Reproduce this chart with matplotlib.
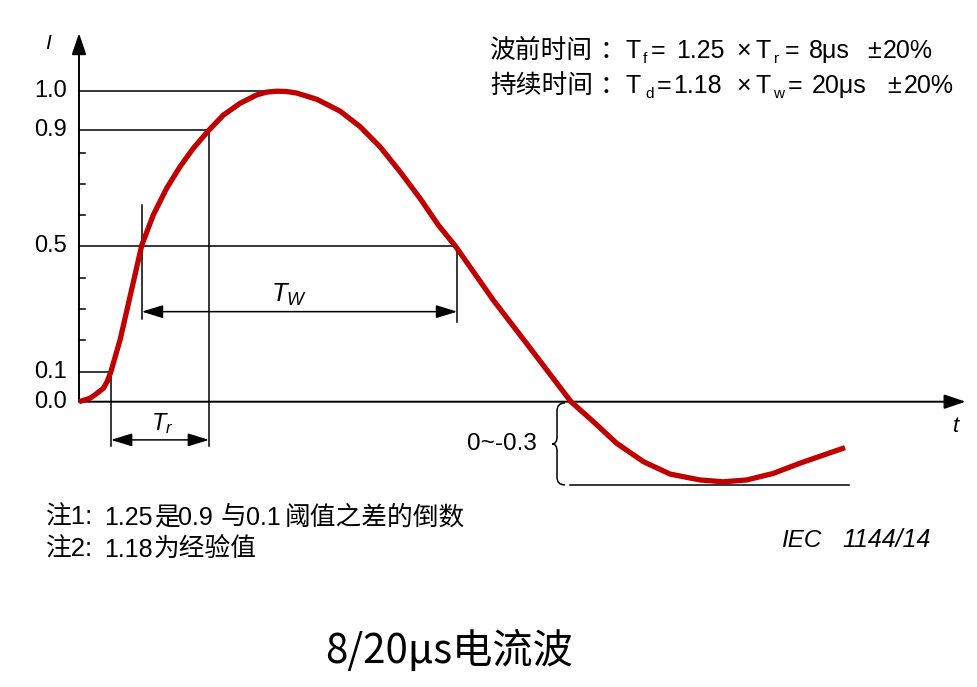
import matplotlib
matplotlib.use("Agg")
import matplotlib.pyplot as plt
from matplotlib.path import Path
from matplotlib.patches import PathPatch
from matplotlib.transforms import IdentityTransform

plt.rcParams['font.family'] = ['Liberation Sans', 'Noto Sans CJK SC', 'DejaVu Sans']
plt.rcParams['mathtext.fontset'] = 'custom'
plt.rcParams['mathtext.rm'] = 'Liberation Sans'
plt.rcParams['mathtext.it'] = 'Liberation Sans:italic'

# 8/20us current wave (t in us-ish units, I per unit)
t_us = [0.0, 0.71, 1.03, 1.57, 1.84, 2.06, 2.65, 3.29, 4.05, 4.79, 5.66, 6.52,
        7.37, 8.39, 9.31, 10.39, 11.46, 12.1, 12.75, 13.4, 14.05, 15.34, 16.84, 18.13,
        19.42, 20.71, 22.0, 23.18, 24.3, 26.73, 28.87, 31.74, 33.18, 34.69,
        36.41, 38.13, 40.06, 41.57, 43.08, 44.79, 46.52, 48.02, 49.42]
i_pu = [0.0, 0.011, 0.022, 0.043, 0.067, 0.097, 0.199, 0.338, 0.504, 0.601, 0.688, 0.757,
        0.816, 0.875, 0.923, 0.961, 0.988, 0.997, 1.0, 0.999, 0.994, 0.974, 0.936, 0.886,
        0.821, 0.741, 0.655, 0.569, 0.5, 0.327, 0.188, 0.0, -0.064, -0.134,
        -0.193, -0.233, -0.252, -0.258, -0.252, -0.231, -0.198, -0.172, -0.148]

# reference levels on the I axis and where the curve crosses them
level_vals = [0.0, 0.097, 0.5, 0.875, 1.0]
level_labels = ['0.0', '0.1', '0.5', '0.9', '1.0']
minor_ticks = [0.2, 0.3, 0.4, 0.6, 0.7, 0.8]
t10, t50r, t90, tpeak, t50f = 2.06, 4.05, 8.39, 12.45, 24.4
trough = -0.267
t_trough = (31.7, 49.7)

RED = '#c00000'
LW = 1.1

fig = plt.figure(figsize=(9.78, 6.87), dpi=100)
ax = fig.add_axes([0, 0, 1, 1])
ax.set_xlim(-79 / 15.5, (978 - 79) / 15.5)
ax.set_ylim((401.7 - 687) / 310.5, 401.7 / 310.5)
ax.axis('off')

# axes with arrows
head = dict(arrowstyle='-|>,head_length=0.65,head_width=0.22',
            mutation_scale=20, lw=1.4, color='black', shrinkA=0, shrinkB=0)
ax.annotate('', xy=(0, 1.187), xytext=(0, 0), arrowprops=head)
ax.annotate('', xy=(57.2, 0), xytext=(0, 0), arrowprops=head)
ax.text(-2.0, 1.155, 'I', fontsize=15, style='italic', ha='center', va='center')
ax.text(56.6, -0.08, 't', fontsize=16, style='italic', ha='center', va='center')

for v, lab in zip(level_vals, level_labels):
    ax.text(-0.75, v, lab, fontsize=17, ha='right', va='center')
for v in minor_ticks:
    ax.plot([0, 0.4], [v, v], color='black', lw=LW)

# guide lines
ax.plot([0, tpeak], [1.0, 1.0], color='black', lw=LW)
ax.plot([0, t90, t90], [0.875, 0.875, -0.143], color='black', lw=LW)
ax.plot([0, t10, t10], [0.097, 0.097, -0.143], color='black', lw=LW)
ax.plot([0, t50f, t50f], [0.5, 0.5, 0.257], color='black', lw=LW)
ax.plot([t50r, t50r], [0.633, 0.266], color='black', lw=LW)
ax.plot(t_trough, [trough, trough], color='black', lw=LW)

arrow = dict(arrowstyle='<|-|>,head_length=0.65,head_width=0.2', mutation_scale=20,
             lw=LW, color='black', shrinkA=0, shrinkB=0)
ax.annotate('', xy=(t50f, 0.29), xytext=(t50r, 0.29), arrowprops=arrow)
ax.annotate('', xy=(t90, -0.123), xytext=(t10, -0.123), arrowprops=arrow)
ax.text(13.55, 0.345, r'$T_W$', fontsize=18.5, ha='center', va='center')
ax.text(5.35, -0.069, r'$T_r$', fontsize=17, ha='center', va='center')

# curly brace for the undershoot
verts = [(31.35, -0.004), (30.84, -0.004), (30.84, -0.030),
         (30.84, -0.114),
         (30.84, -0.136), (30.52, -0.136),
         (30.84, -0.136), (30.84, -0.159),
         (30.84, -0.243),
         (30.84, -0.268), (31.35, -0.268)]
codes = [Path.MOVETO, Path.CURVE3, Path.CURVE3, Path.LINETO,
         Path.CURVE3, Path.CURVE3, Path.CURVE3, Path.CURVE3,
         Path.LINETO, Path.CURVE3, Path.CURVE3]
ax.add_patch(PathPatch(Path(verts, codes), fill=False, lw=LW, color='black'))
ax.text(29.55, -0.136, '0~-0.3', fontsize=17.5, ha='right', va='center')

# the wave
ax.plot(t_us, i_pu, color=RED, lw=3.8, solid_capstyle='butt', solid_joinstyle='round', zorder=5)


def place(y, tokens, **kw):
    # tokens: (text, left x in px, font size, drop below baseline in px)
    for s, x, size, dy in tokens:
        fig.text(x, 687 - y - dy, s, fontsize=size, transform=IdentityTransform(),
                 ha='left', va='baseline', **kw)


CJ, LA, SB = 18.5, 18, 11
place(57.7, [('波前时间', 490, CJ, 0), ('：', 600, CJ, 0), ('T', 626, LA, 0),
             ('f', 643, SB, 5), ('=', 651, LA, 0), ('1.25', 676, LA, 0),
             ('×', 736, LA, 0), ('T', 756, LA, 0), ('r', 774, SB, 5),
             ('=', 785, LA, 0), ('8μs', 809, LA, 0), ('±', 867, LA, 0),
             ('20%', 883, LA, 0)])
place(92.7, [('持续时间', 490, CJ, 0), ('：', 600, CJ, 0), ('T', 626, LA, 0),
             ('d', 645, SB, 5), ('=', 657, LA, 0), ('1.18', 673, LA, 0),
             ('×', 736, LA, 0), ('T', 756, LA, 0), ('w', 773, SB, 5),
             ('=', 788, LA, 0), ('20μs', 812, LA, 0), ('±', 887, LA, 0),
             ('20%', 904, LA, 0)])

place(525, [('注1:', 46, CJ, 0), ('1.25', 104, LA, 0), ('是', 154, CJ, 0),
            ('0.9', 178, LA, 0), ('与', 221, CJ, 0), ('0.1', 246, LA, 0),
            ('阈值之差的倒数', 285, CJ, 0)])
place(556.7, [('注2:', 46, CJ, 0), ('1.18', 104, LA, 0), ('为经验值', 154, CJ, 0)])
place(547, [('IEC', 781, 17.5, 0), ('1144/14', 842, 18, 0)], style='italic')

fig.text(449, 687 - 663, '8/20μs电流波', fontsize=29, ha='center', va='baseline',
         family=['Noto Sans CJK SC', 'DejaVu Sans'], transform=IdentityTransform())

fig.savefig('out.png', dpi=100)
